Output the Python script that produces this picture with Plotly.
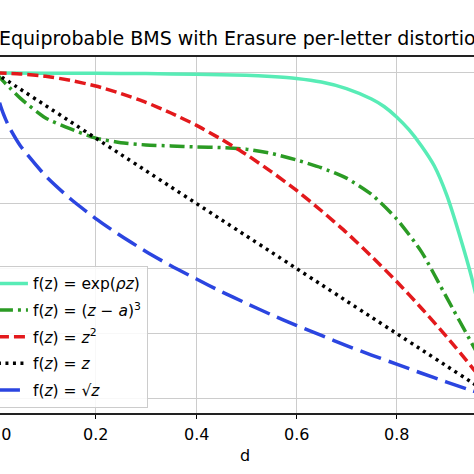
import plotly.graph_objects as go

# distortion grid shared by most curves
d_grid = [0.0, 0.05, 0.10, 0.15, 0.20, 0.25, 0.30, 0.35, 0.40, 0.45, 0.50,
          0.55, 0.60, 0.65, 0.70, 0.75, 0.80, 0.85, 0.90, 0.95, 1.0]

# f(z) = z
rate_linear = [1.0, 0.95, 0.90, 0.85, 0.80, 0.75, 0.70, 0.65, 0.60, 0.55, 0.50,
               0.45, 0.40, 0.35, 0.30, 0.25, 0.20, 0.15, 0.10, 0.05, 0.0]

# f(z) = z^2
rate_square = [1.0, 0.997, 0.99, 0.977, 0.96, 0.937, 0.91, 0.877, 0.84, 0.797, 0.75,
               0.697, 0.64, 0.577, 0.51, 0.437, 0.36, 0.277, 0.19, 0.097, 0.0]

# f(z) = (z - a)^3
rate_cubic = [1.0, 0.922, 0.862, 0.828, 0.80, 0.786, 0.779, 0.776, 0.773, 0.771, 0.766,
              0.753, 0.733, 0.709, 0.677, 0.627, 0.552, 0.45, 0.31, 0.17, 0.03]

# f(z) = sqrt(z)
d_sqrt = [0.0, 0.005, 0.01, 0.02, 0.03, 0.05, 0.10, 0.15, 0.20, 0.25, 0.30, 0.35,
          0.40, 0.45, 0.50, 0.55, 0.60, 0.65, 0.70, 0.75, 0.80, 0.85, 0.90, 0.95, 1.0]
rate_sqrt = [1.0, 0.93, 0.90, 0.859, 0.827, 0.776, 0.684, 0.613, 0.553, 0.50, 0.452, 0.408,
             0.368, 0.329, 0.293, 0.258, 0.225, 0.194, 0.163, 0.134, 0.106, 0.078, 0.051, 0.025, 0.0]

# f(z) = exp(rho z)
d_exp = [0.0, 0.1, 0.2, 0.3, 0.4, 0.5, 0.55, 0.6, 0.65, 0.7, 0.75, 0.775, 0.8,
         0.825, 0.85, 0.875, 0.9, 0.925, 0.95, 0.975, 1.0]
rate_exp = [1.0, 0.999, 0.999, 0.998, 0.996, 0.993, 0.989, 0.983, 0.972, 0.952, 0.92,
            0.897, 0.865, 0.825, 0.775, 0.715, 0.625, 0.505, 0.37, 0.2, 0.0]

x_tick_vals = [0.0, 0.2, 0.4, 0.6, 0.8]
x_tick_text = ["0.0", "0.2", "0.4", "0.6", "0.8"]
y_tick_vals = [0.0, 0.2, 0.4, 0.6, 0.8, 1.0]

FONT = "DejaVu Sans"
LW = 3.5
X_LEFT_PX = -4.6      # pixel where d = 0 sits (chart is cropped)
PX_PER_UNIT = 501.5

series = [
    ("f(z) = exp(<i>ρz</i>)", d_exp, rate_exp, "#58ecb6", "solid"),
    ("f(<i>z</i>) = (<i>z</i> − <i>a</i>)<sup>3</sup>", d_grid, rate_cubic, "#2b9b24", "15px,5px,3px,5px"),
    ("f(<i>z</i>) = <i>z</i><sup>2</sup>", d_grid, rate_square, "#e3191c", "11px,5px"),
    ("f(<i>z</i>) = <i>z</i>", d_grid, rate_linear, "#000000", "3px,4.5px"),
    ("f(<i>z</i>) = √<i>z</i>", d_sqrt, rate_sqrt, "#2b45e0", "22px,8px"),
]

fig = go.Figure()
for i, (name, xs, ys, color, dash) in enumerate(series):
    fig.add_trace(go.Scatter(
        x=xs, y=ys, mode="lines", name=name, legendgroup=str(i),
        line=dict(color=color, width=LW, dash=dash, shape="spline", smoothing=0.6),
    ))

x0 = -X_LEFT_PX / PX_PER_UNIT
x1 = (474 - X_LEFT_PX) / PX_PER_UNIT

annotations = [
    dict(text="Equiprobable BMS with Erasure per-letter distortion",
         xref="paper", yref="paper", x=246.1 / 474, y=1, xanchor="center", yanchor="bottom",
         xshift=-3, yshift=5.5, showarrow=False, font=dict(family=FONT, size=19, color="black")),
    dict(text="d", xref="paper", yref="paper", x=245 / 474, y=0, xanchor="center",
         yanchor="middle", yshift=-42, showarrow=False,
         font=dict(family=FONT, size=16, color="black")),
]
for v, t in zip(x_tick_vals, x_tick_text):
    px = X_LEFT_PX + v * PX_PER_UNIT
    if v == 0.0:
        px += 3  # only a sliver of the first label shows in the cropped original
    annotations.append(dict(
        text=t, xref="paper", yref="paper", x=px / 474, y=0,
        xanchor="center", yanchor="middle", yshift=-21, showarrow=False,
        font=dict(family=FONT, size=16, color="black")))

fig.update_layout(
    width=474, height=474,
    margin=dict(l=0, r=0, t=57, b=61, autoexpand=False),
    plot_bgcolor="white", paper_bgcolor="white",
    font=dict(family=FONT, size=16, color="black"),
    showlegend=True,
    legend=dict(
        x=-0.017, xanchor="left", y=0.0145, yanchor="bottom",
        bgcolor="rgba(255,255,255,0.85)", bordercolor="#cccccc", borderwidth=1,
        font=dict(family=FONT, size=15.5, color="black"),
        tracegroupgap=3.5,
    ),
    xaxis=dict(
        range=[x0, x1], tickvals=x_tick_vals,
        ticks="outside", ticklen=4, tickwidth=1.2, tickcolor="black",
        showticklabels=False,
        showline=True, mirror=True, linecolor="#222222", linewidth=1.5,
        showgrid=True, gridcolor="#cccccc", gridwidth=1.2, zeroline=False,
    ),
    yaxis=dict(
        range=[-0.044, 1.049], tickvals=y_tick_vals, showticklabels=False, ticks="",
        showline=False, showgrid=True, gridcolor="#cccccc", gridwidth=1.2, zeroline=False,
    ),
    annotations=annotations,
)

fig.write_html(
    "out.html",
    config={"displayModeBar": False},
    post_script="document.body.style.margin='0';document.body.style.padding='0';",
)
